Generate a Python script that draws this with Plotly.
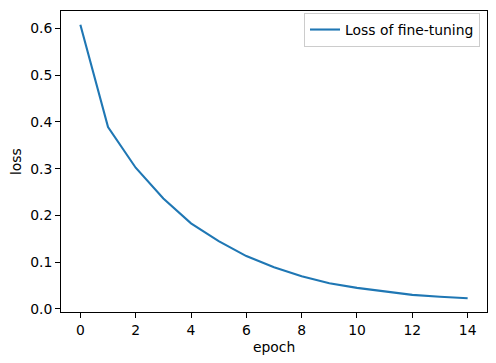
import plotly.graph_objects as go

epochs = list(range(15))
loss = [0.608, 0.389, 0.302, 0.236, 0.183, 0.145, 0.113, 0.089, 0.070,
        0.055, 0.045, 0.037, 0.030, 0.026, 0.0226]
x_ticks = [0, 2, 4, 6, 8, 10, 12, 14]
y_ticks = [0.0, 0.1, 0.2, 0.3, 0.4, 0.5, 0.6]
series_name = "Loss of fine-tuning"

# page body has an 8px default margin; compensate so the page matches the reference
OFF = 8
W, H = 496 - OFF, 363 - OFF
L, R, T, B = 60.5 - OFF, 487 - OFF, 10.5 - OFF, 312 - OFF

ymin, ymax = min(loss), max(loss)
pad = (ymax - ymin) * 0.05
xpad = (max(epochs) - min(epochs)) * 0.05

font = dict(family="DejaVu Sans", size=13.9, color="black")

fig = go.Figure()
fig.add_trace(go.Scatter(x=epochs, y=loss, mode="lines", name=series_name,
                         line=dict(color="#1f77b4", width=2.1)))

axis_common = dict(showgrid=False, zeroline=False, showline=True, linecolor="black",
                   linewidth=1, mirror=True, ticks="outside", ticklen=5,
                   tickwidth=1, tickcolor="black", tickfont=font, automargin=False)

legend_top_page = 12.5
fig.update_layout(
    width=W, height=H, autosize=False,
    margin=dict(l=L, r=W - R, t=T, b=H - B, pad=0),
    paper_bgcolor="white", plot_bgcolor="white",
    font=font,
    showlegend=True,
    legend=dict(x=(480 - OFF - L) / (R - L), y=(B - (legend_top_page - OFF)) / (B - T),
                xanchor="right", yanchor="top",
                bgcolor="rgba(255,255,255,0.8)", bordercolor="#cccccc", borderwidth=1,
                font=font),
    xaxis=dict(range=[min(epochs) - xpad, max(epochs) + xpad], tickvals=x_ticks,
               ticktext=[str(v) for v in x_ticks], **axis_common),
    yaxis=dict(range=[ymin - pad, ymax + pad], tickvals=y_ticks,
               ticktext=[f"{v:.1f}" for v in y_ticks], **axis_common),
    annotations=[
        dict(text="epoch", xref="paper", yref="paper", x=0.5,
             y=-((347 - OFF) - B) / (B - T),
             xanchor="center", yanchor="middle", showarrow=False, font=font),
        dict(text="loss", xref="paper", yref="paper", x=-(L - (15 - OFF)) / (R - L), y=0.5,
             xanchor="center", yanchor="middle", showarrow=False, textangle=-90, font=font),
    ],
)

fig.write_html("out.html")
